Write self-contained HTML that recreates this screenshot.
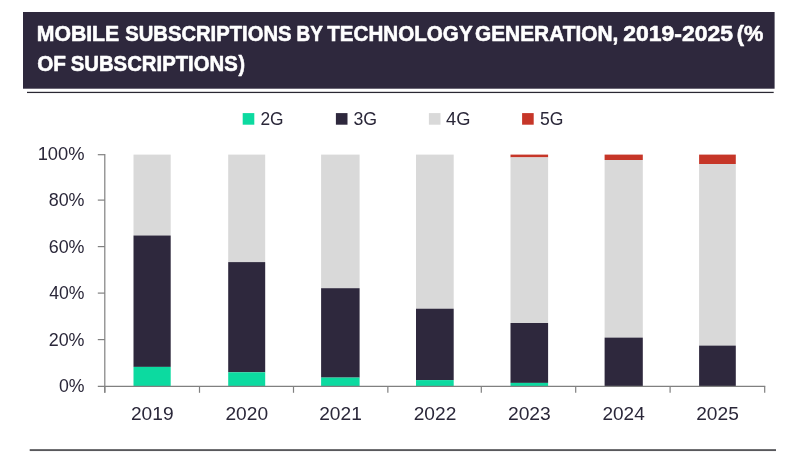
<!DOCTYPE html>
<html><head><meta charset="utf-8"><title>Mobile subscriptions by technology generation</title>
<style>
html,body{margin:0;padding:0;background:#fff;}
body{width:797px;height:466px;overflow:hidden;}
svg{display:block;}
text{font-family:"Liberation Sans",sans-serif;}
.t{font-weight:bold;font-size:22.0px;fill:#fff;stroke:#fff;stroke-width:0.6px;stroke-linejoin:round;}
.l{font-size:17.8px;fill:#2a2739;}
.g{font-size:18.6px;fill:#2a2739;}
</style></head><body>
<svg width="797" height="466" viewBox="0 0 797 466">
<rect x="0" y="0" width="797" height="466" fill="#fff"/>
<rect x="23" y="12" width="751.6" height="76.7" fill="#2e283d"/>
<rect x="27" y="91.8" width="746.7" height="1.25" fill="#2a2833"/>

<rect x="242.7" y="113.1" width="11.6" height="11.6" fill="#0cdaa0"/>
<rect x="335.9" y="113.1" width="11.6" height="11.6" fill="#2e283d"/>
<rect x="428.9" y="113.1" width="11.6" height="11.6" fill="#d9d9d9"/>
<rect x="522.1" y="113.1" width="11.6" height="11.6" fill="#c63628"/>
<rect x="133.50" y="154.6" width="37.20" height="80.90" fill="#d9d9d9"/>
<rect x="133.50" y="235.5" width="37.20" height="131.40" fill="#2e283d"/>
<rect x="133.50" y="366.9" width="37.20" height="19.50" fill="#0cdaa0"/>
<rect x="228.20" y="154.6" width="37.00" height="107.50" fill="#d9d9d9"/>
<rect x="228.20" y="262.1" width="37.00" height="110.20" fill="#2e283d"/>
<rect x="228.20" y="372.3" width="37.00" height="14.10" fill="#0cdaa0"/>
<rect x="321.10" y="154.6" width="38.50" height="133.60" fill="#d9d9d9"/>
<rect x="321.10" y="288.2" width="38.50" height="89.40" fill="#2e283d"/>
<rect x="321.10" y="377.6" width="38.50" height="8.80" fill="#0cdaa0"/>
<rect x="416.00" y="154.6" width="37.70" height="154.10" fill="#d9d9d9"/>
<rect x="416.00" y="308.7" width="37.70" height="71.40" fill="#2e283d"/>
<rect x="416.00" y="380.1" width="37.70" height="6.30" fill="#0cdaa0"/>
<rect x="510.50" y="154.6" width="37.60" height="2.80" fill="#c63628"/>
<rect x="510.50" y="157.4" width="37.60" height="165.60" fill="#d9d9d9"/>
<rect x="510.50" y="323.0" width="37.60" height="59.90" fill="#2e283d"/>
<rect x="510.50" y="382.9" width="37.60" height="3.50" fill="#0cdaa0"/>
<rect x="604.60" y="154.6" width="38.20" height="5.40" fill="#c63628"/>
<rect x="604.60" y="160.0" width="38.20" height="177.60" fill="#d9d9d9"/>
<rect x="604.60" y="337.6" width="38.20" height="48.80" fill="#2e283d"/>
<rect x="699.10" y="154.6" width="36.70" height="9.40" fill="#c63628"/>
<rect x="699.10" y="164.0" width="36.70" height="181.60" fill="#d9d9d9"/>
<rect x="699.10" y="345.6" width="36.70" height="40.80" fill="#2e283d"/>
<g stroke="#808080" stroke-width="1.2" fill="none">
<line x1="104.8" y1="154.1" x2="104.8" y2="392.79999999999995"/>
<line x1="97.8" y1="386.4" x2="765.3000000000001" y2="386.4"/>
<line x1="97.8" y1="154.70" x2="104.8" y2="154.70"/>
<line x1="97.8" y1="200.10" x2="104.8" y2="200.10"/>
<line x1="97.8" y1="246.60" x2="104.8" y2="246.60"/>
<line x1="97.8" y1="293.10" x2="104.8" y2="293.10"/>
<line x1="97.8" y1="339.60" x2="104.8" y2="339.60"/>
<line x1="104.80" y1="386.4" x2="104.80" y2="392.79999999999995"/>
<line x1="199.50" y1="386.4" x2="199.50" y2="392.79999999999995"/>
<line x1="293.50" y1="386.4" x2="293.50" y2="392.79999999999995"/>
<line x1="387.85" y1="386.4" x2="387.85" y2="392.79999999999995"/>
<line x1="481.30" y1="386.4" x2="481.30" y2="392.79999999999995"/>
<line x1="575.70" y1="386.4" x2="575.70" y2="392.79999999999995"/>
<line x1="670.10" y1="386.4" x2="670.10" y2="392.79999999999995"/>
<line x1="764.70" y1="386.4" x2="764.70" y2="392.79999999999995"/>
</g>
<text class="t">
<tspan x="36.73" y="41.1" textLength="82.53" lengthAdjust="spacingAndGlyphs">MOBILE</tspan> <tspan x="125.25" y="41.1" textLength="166.25" lengthAdjust="spacingAndGlyphs">SUBSCRIPTIONS</tspan> <tspan x="296.48" y="41.1" textLength="26.02" lengthAdjust="spacingAndGlyphs">BY</tspan> <tspan x="327.25" y="41.1" textLength="145.00" lengthAdjust="spacingAndGlyphs">TECHNOLOGY</tspan> <tspan x="474.99" y="41.1" textLength="143.27" lengthAdjust="spacingAndGlyphs">GENERATION,</tspan> <tspan x="623.25" y="41.1" textLength="109.76" lengthAdjust="spacingAndGlyphs">2019-2025</tspan> <tspan x="736.70" y="41.1" textLength="26.56" lengthAdjust="spacingAndGlyphs">(%</tspan> <tspan x="37.23" y="71.2" textLength="28.80" lengthAdjust="spacingAndGlyphs">OF</tspan> <tspan x="70.75" y="71.2" textLength="167.00" lengthAdjust="spacingAndGlyphs">SUBSCRIPTIONS</tspan><tspan x="238.52" y="71.2" textLength="6.53" lengthAdjust="spacingAndGlyphs">)</tspan>
</text>
<text class="g" x="260.42" y="125.0" textLength="23.19" lengthAdjust="spacingAndGlyphs">2G</text>
<text class="g" x="353.44" y="125.0" textLength="23.68" lengthAdjust="spacingAndGlyphs">3G</text>
<text class="g" x="445.97" y="125.0" textLength="24.40" lengthAdjust="spacingAndGlyphs">4G</text>
<text class="g" x="539.91" y="125.0" textLength="23.46" lengthAdjust="spacingAndGlyphs">5G</text>
<text class="l" x="130.96" y="420.3" textLength="42.58" lengthAdjust="spacingAndGlyphs">2019</text>
<text class="l" x="225.46" y="420.3" textLength="42.57" lengthAdjust="spacingAndGlyphs">2020</text>
<text class="l" x="319.21" y="420.3" textLength="42.58" lengthAdjust="spacingAndGlyphs">2021</text>
<text class="l" x="413.71" y="420.3" textLength="42.58" lengthAdjust="spacingAndGlyphs">2022</text>
<text class="l" x="507.95" y="420.3" textLength="42.84" lengthAdjust="spacingAndGlyphs">2023</text>
<text class="l" x="602.47" y="420.3" textLength="42.30" lengthAdjust="spacingAndGlyphs">2024</text>
<text class="l" x="696.21" y="420.3" textLength="42.57" lengthAdjust="spacingAndGlyphs">2025</text>
<text class="l" x="37.69" y="159.6" textLength="46.84" lengthAdjust="spacingAndGlyphs">100%</text>
<text class="l" x="48.71" y="206.1" textLength="35.82" lengthAdjust="spacingAndGlyphs">80%</text>
<text class="l" x="48.71" y="252.6" textLength="35.82" lengthAdjust="spacingAndGlyphs">60%</text>
<text class="l" x="49.24" y="299.2" textLength="35.28" lengthAdjust="spacingAndGlyphs">40%</text>
<text class="l" x="48.71" y="345.7" textLength="35.82" lengthAdjust="spacingAndGlyphs">20%</text>
<text class="l" x="58.97" y="392.2" textLength="25.57" lengthAdjust="spacingAndGlyphs">0%</text>
<rect x="29.7" y="449.15" width="746.3" height="1.9" fill="#58585c"/>
</svg></body></html>
